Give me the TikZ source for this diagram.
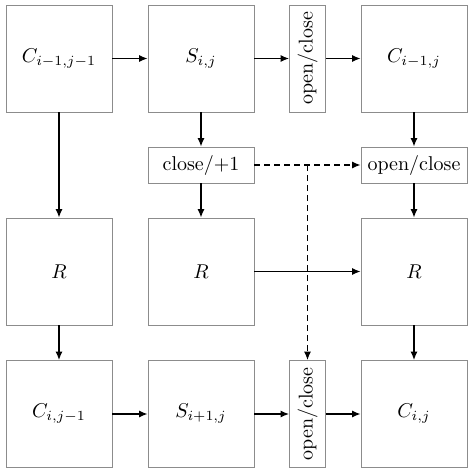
\documentclass[tikz,border=0pt]{standalone}
\usetikzlibrary{arrows.meta}
\newcommand\tx[1]{\scalebox{2.0}{#1}}
\begin{document}
\begin{tikzpicture}[x=1pt,y=-1pt,
  box/.style={draw=black!45,line width=0.9pt,fill=white,inner sep=0pt,font=\normalsize},
  big/.style={box,minimum width=106pt,minimum height=107pt},
  tall/.style={box,minimum width=36pt,minimum height=107pt},
  wide/.style={box,minimum width=106pt,minimum height=36pt},
  arr/.style={-{Latex[length=8.5pt,width=7pt]},line width=1.2pt},
  darr/.style={arr,dashed,dash pattern=on 6pt off 4pt}]
\useasboundingbox (0,0) rectangle (474,474);
% row 1
\node[big] (c11) at (59,58.5) {\tx{$C_{i-1,j-1}$}};
\node[big] (s1) at (201,58.5) {\tx{$S_{i,j}$}};
\node[tall] (oc1) at (307.5,58.5) {\rotatebox{90}{\tx{open/close}}};
\node[big] (c13) at (414,58.5) {\tx{$C_{i-1,j}$}};
% row 2
\node[wide] (cl) at (201,165) {\tx{close/+1}};
\node[wide] (oc2) at (414,165) {\tx{open/close}};
% row 3
\node[big] (r1) at (59,271.5) {\tx{$R$}};
\node[big] (r2) at (201,271.5) {\tx{$R$}};
\node[big] (r3) at (414,271.5) {\tx{$R$}};
% row 4
\node[big] (c21) at (59,414) {\tx{$C_{i,j-1}$}};
\node[big] (s2) at (201,414) {\tx{$S_{i+1,j}$}};
\node[tall] (oc3) at (307.5,414) {\rotatebox{90}{\tx{open/close}}};
\node[big] (c23) at (414,414) {\tx{$C_{i,j}$}};
\coordinate (j) at (oc3.north |- cl.east);
% arrows
\draw[arr] (c11) -- (s1);
\draw[arr] (s1) -- (oc1);
\draw[arr] (oc1) -- (c13);
\draw[arr] (c11) -- (r1);
\draw[arr] (s1) -- (cl);
\draw[arr] (c13) -- (oc2);
\draw[arr] (cl) -- (r2);
\draw[arr] (oc2) -- (r3);
\draw[arr] (r2) -- (r3);
\draw[arr] (r1) -- (c21);
\draw[arr] (r3) -- (c23);
\draw[arr] (c21) -- (s2);
\draw[arr] (s2) -- (oc3);
\draw[arr] (oc3) -- (c23);
\draw[darr] (cl) -- (oc2);
\draw[darr] (j) -- (oc3);
\end{tikzpicture}
\end{document}
